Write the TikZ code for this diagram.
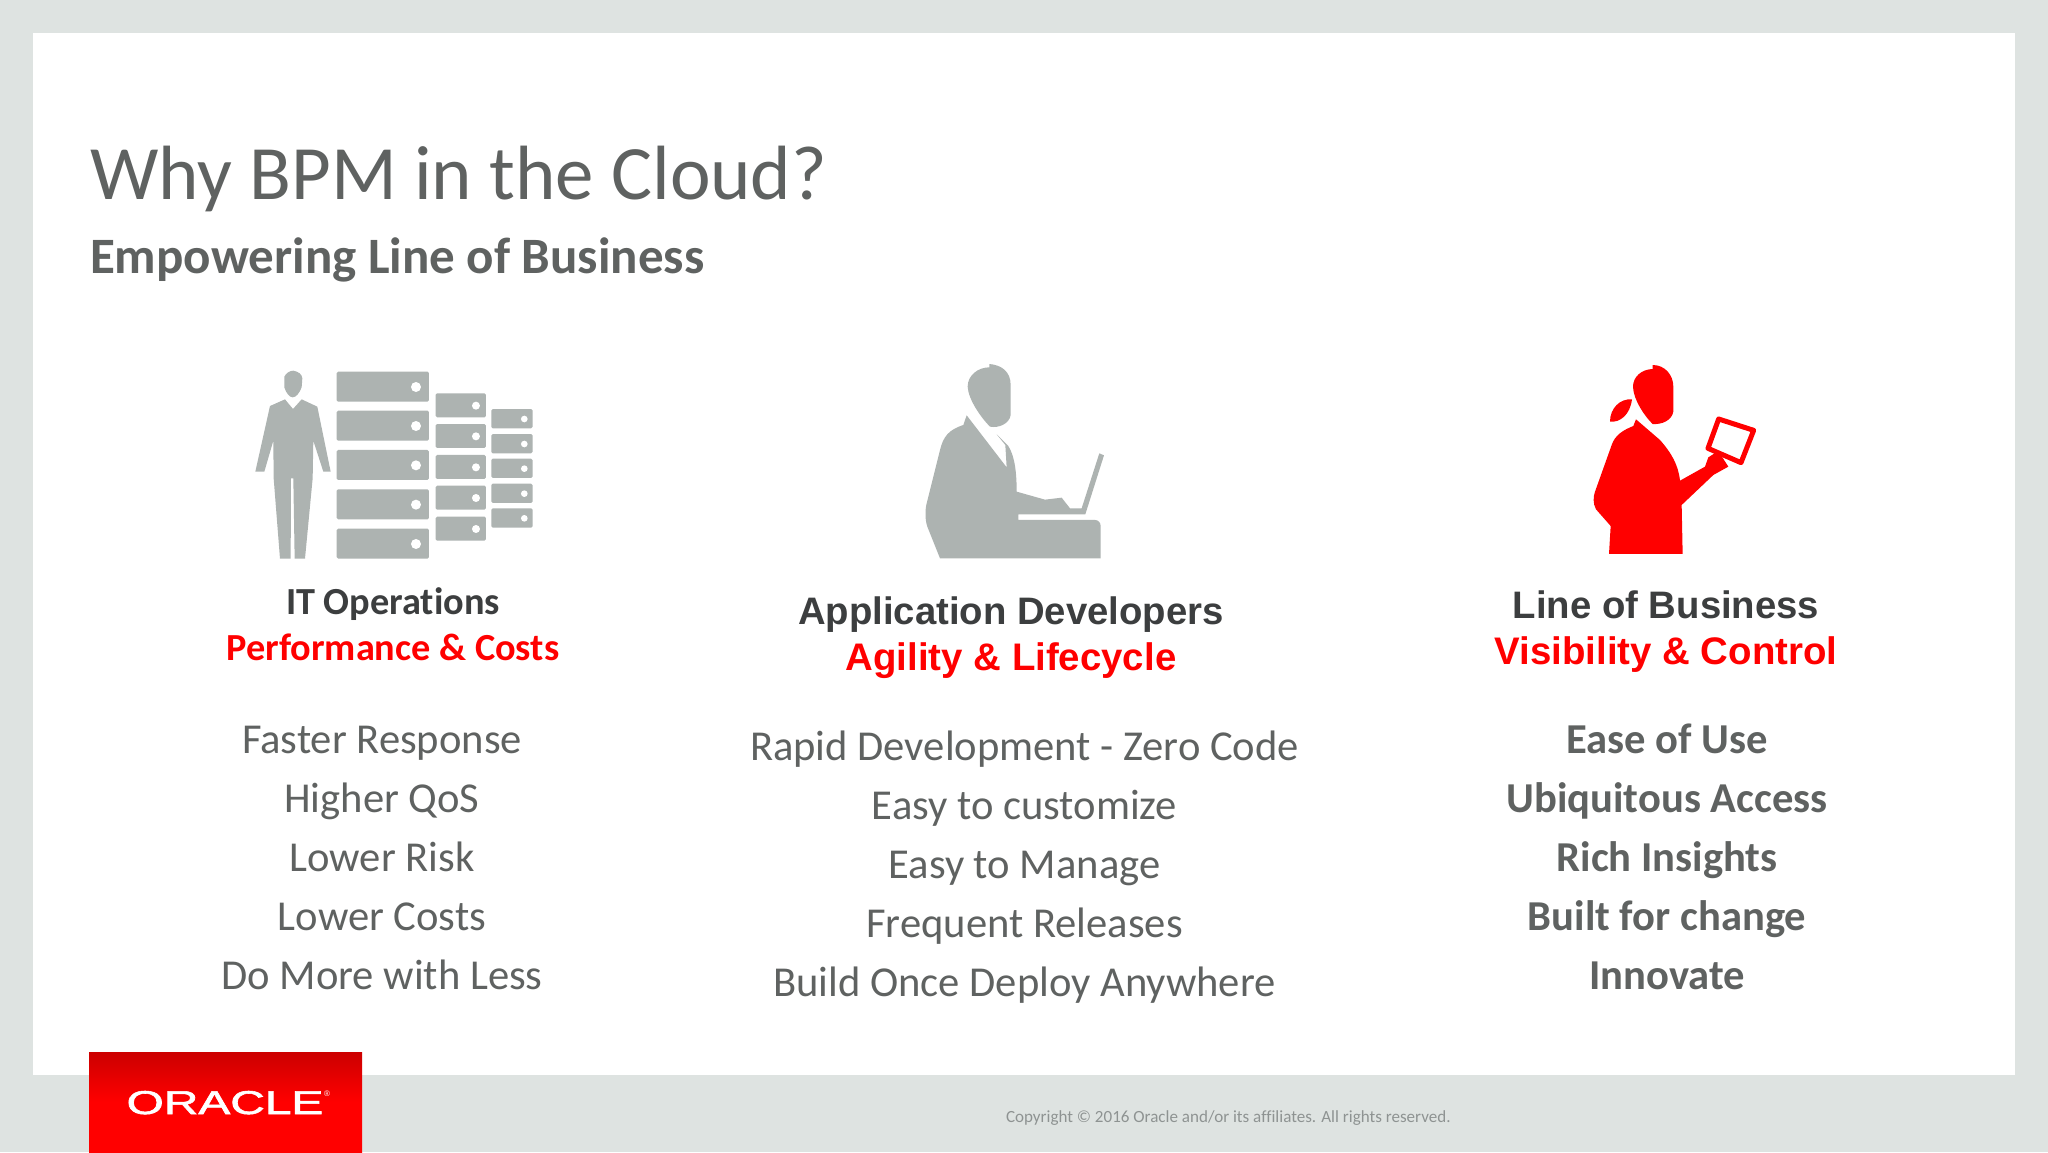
\documentclass[tikz,border=0pt]{standalone}
\usepackage{fontspec}
\setmainfont[Ligatures={NoCommon}]{Carlito}
\newfontfamily\arialf{Liberation Sans}
\newfontfamily\logof[FakeBold=1.6]{Liberation Sans}
\definecolor{bgc}{HTML}{DEE3E1}
\definecolor{txtc}{HTML}{5F6261}
\definecolor{darkc}{HTML}{3C3E3F}
\definecolor{iconc}{HTML}{ADB3B1}
\definecolor{redc}{HTML}{FF0000}
\definecolor{copyc}{HTML}{8E9392}
\tikzset{
 every node/.style={inner sep=0pt,outer sep=0pt},
 tbase/.style={anchor=base,text=txtc},
 listl/.style={tbase,font=\fontsize{42.6}{42.6}\selectfont},
 listb/.style={tbase,font=\fontsize{42.6}{42.6}\selectfont\bfseries},
 h1/.style={anchor=base,text=darkc,font=\fontsize{38.3}{38.3}\selectfont\bfseries},
 h2/.style={anchor=base,text=redc,font=\fontsize{38.3}{38.3}\selectfont\bfseries},
 ah1/.style={anchor=base,text=darkc,font=\fontsize{38.3}{38.3}\selectfont\arialf\bfseries},
 ah2/.style={anchor=base,text=redc,font=\fontsize{38.4}{38.4}\selectfont\arialf\bfseries},
 srv/.style={fill=iconc,rounded corners=1.5pt},
 hole/.style={fill=white},
}
\begin{document}
\begin{tikzpicture}[x=1pt,y=-1pt]
\useasboundingbox (0,0) rectangle (2048,1152);
\fill[bgc] (0,0) rectangle (2048,1152);
\fill[white] (33,33) rectangle (2015,1075);
% title
\node[anchor=base west,text=txtc,font=\fontsize{76.9}{76.9}\selectfont] (title) at (90,199.5) {Why BPM in the Cloud?};
\node[anchor=base west,text=txtc,font=\fontsize{51}{51}\selectfont\bfseries] (subtitle) at (90,273) {Empowering Line of Business};
% icon 1
\begin{scope}[shift={(230,350)},x=.3333pt,y=-.3333pt]
\fill[iconc] (163,80) .. controls (168,70) and (178,62) .. (190,62) .. controls (205,65) and (216,72) .. (217,85) -- (215,112) .. controls (208,130) and (198,142) .. (188,142) .. controls (178,142) and (168,128) .. (163,112) -- cycle;
\fill[iconc] (120,168) -- (165,148) -- (189,177) -- (215,148) -- (262,170) -- (302,365) -- (280,365) -- (250,272) -- (248,385) -- (225,626) -- (194,626) -- (190,385) -- (183,385) -- (182,626) -- (150,626) -- (131,385) -- (130,272) -- (103,365) -- (76,365) -- cycle;
\foreach \y in {65,182,300,418,536}{
  \fill[srv] (320,\y) rectangle (597,\y+90);
  \fill[hole] (558,\y+46) circle (15);
}
\foreach \y in {130,222,315,407,500}{
  \fill[srv] (617,\y) rectangle (768,\y+72);
  \fill[hole] (738,\y+37) circle (12);
}
\foreach \y in {177,252,326,401,475}{
  \fill[srv] (784,\y) rectangle (908,\y+58);
  \fill[hole] (883,\y+30) circle (10);
}
\end{scope}
% icon 2
\begin{scope}[shift={(900,350)},x=.3333pt,y=-.3333pt]
\fill[iconc] (268,42) .. controls (305,45) and (332,65) .. (332,105) -- (332,195) .. controls (328,222) and (295,235) .. (270,230) .. controls (245,205) and (205,150) .. (203,110) .. controls (203,75) and (235,52) .. (268,52) -- cycle;
\fill[iconc] (200,196) -- (320,352) -- (316,285) -- (290,253) -- (325,288) .. controls (345,320) and (350,370) .. (350,425) -- (435,449) -- (485,443) -- (510,475) -- (545,475) -- (598,310) -- (612,316) -- (556,493) -- (355,493) -- (355,510) -- (585,510) .. controls (595,510) and (602,518) .. (602,528) -- (602,625) -- (120,625) -- (82,530) .. controls (75,510) and (75,480) .. (80,460) -- (120,300) .. controls (130,260) and (145,240) .. (190,225) -- cycle;
\end{scope}
% icon 3
\begin{scope}[shift={(1570,350)},x=.3333pt,y=-.3333pt]
\fill[redc] (248,45) .. controls (285,45) and (310,75) .. (310,110) -- (310,185) .. controls (305,212) and (275,224) .. (248,222) .. controls (225,200) and (190,150) .. (189,110) .. controls (189,80) and (215,58) .. (248,57) -- cycle;
\fill[redc] (186,148) .. controls (150,145) and (120,175) .. (120,215) .. controls (150,218) and (180,195) .. (186,148) -- cycle;
\fill[redc] (198,208) -- (270,270) .. controls (305,310) and (325,345) .. (330,392) -- (405,350) -- (415,322) -- (445,303) -- (475,350) -- (430,375) -- (335,465) -- (338,612) -- (117,612) -- (122,528) -- (78,478) .. controls (68,460) and (70,440) .. (75,425) -- (125,285) .. controls (135,255) and (160,240) .. (190,228) -- cycle;
\draw[redc,line width=5pt,line join=round] (446,207) -- (551,241) -- (513,338) -- (414,295) -- cycle;
\end{scope}
% column 1
\node[h1] (c1a) at (393,614.5) {IT Operations};
\node[h2] (c1b) at (393,660.5) {Performance \& Costs};
\node[listl] (c1l1) at (382,753) {Faster Response};
\node[listl] (c1l2) at (382,812) {Higher QoS};
\node[listl] (c1l3) at (382,871) {Lower Risk};
\node[listl] (c1l4) at (382,930) {Lower Costs};
\node[listl] (c1l5) at (382,989) {Do More with Less};
% column 2
\node[ah1] (c2a) at (1011,624.5) {Application Developers};
\node[ah2] (c2b) at (1011,670.5) {Agility \& Lifecycle};
\node[listl] (c2l1) at (1024.5,760) {Rapid Development - Zero Code};
\node[listl] (c2l2) at (1024.5,819) {Easy to customize};
\node[listl] (c2l3) at (1024.5,878) {Easy to Manage};
\node[listl] (c2l4) at (1024.5,937) {Frequent Releases};
\node[listl] (c2l5) at (1024.5,996) {Build Once Deploy Anywhere};
% column 3
\node[ah1] (c3a) at (1666,618) {Line of Business};
\node[ah2] (c3b) at (1666,664.5) {Visibility \& Control};
\node[listb] (c3l1) at (1667,753) {Ease of Use};
\node[listb] (c3l2) at (1667,812) {Ubiquitous Access};
\node[listb] (c3l3) at (1667,871) {Rich Insights};
\node[listb] (c3l4) at (1667,930) {Built for change};
\node[listb] (c3l5) at (1667,989) {Innovate};
% logo
\shade[top color=red!80!black,bottom color=redc,middle color=redc,shading angle=0] (89,1052) rectangle (362,1152);
\node[anchor=base,text=white,font=\fontsize{33}{33}\selectfont\logof,xscale=1.45] (oracle) at (225,1114) {ORACLE};
\node[anchor=base west,text=white,font=\fontsize{8}{8}\selectfont\arialf] (reg) at (324,1096) {®};
\node[anchor=base west,text=copyc,font=\fontsize{17.05}{17.05}\selectfont] (copy) at (1006,1122) {Copyright © 2016 Oracle and/or its affiliates. All rights reserved.};
\end{tikzpicture}
\end{document}
